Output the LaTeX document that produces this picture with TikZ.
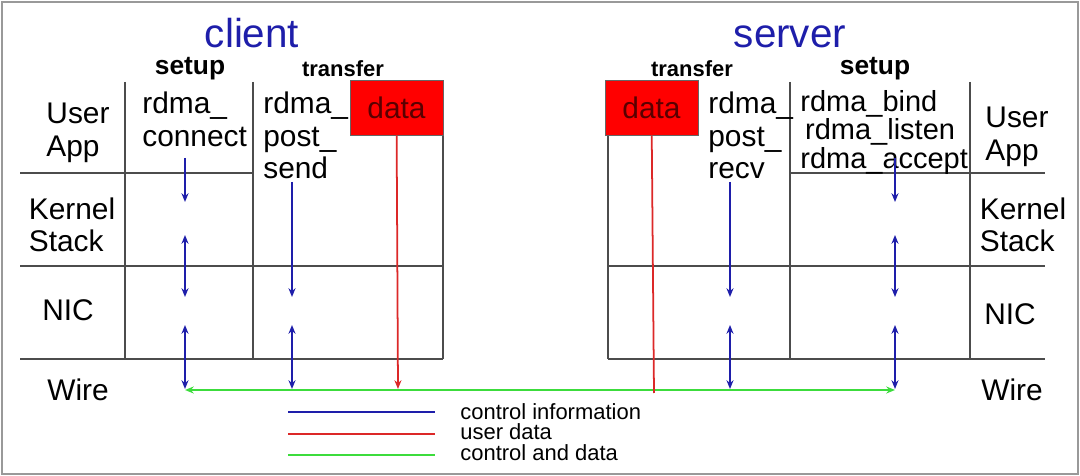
\documentclass[tikz,border=0pt]{standalone}
\usepackage{fontspec}
\setmainfont{Liberation Sans}
\usetikzlibrary{arrows.meta}
\definecolor{ctrl}{RGB}{30,30,170}
\definecolor{udata}{RGB}{220,40,40}
\definecolor{both}{RGB}{60,220,60}
\tikzset{
  grid/.style={draw=black!70, line width=0.8pt},
  lbl/.style={font=\fontsize{17}{18.5}\selectfont, align=left, inner sep=0pt},
  head/.style={font=\fontsize{15}{16}\selectfont\bfseries, inner sep=0pt},
  ctl/.style={ctrl, line width=0.9pt, -{Stealth[length=5pt,width=4pt]}},
  ctlb/.style={ctrl, line width=0.9pt, {Stealth[length=5pt,width=4pt]}-{Stealth[length=5pt,width=4pt]}},
  databox/.style={fill=red, draw=black!60, minimum width=1.86cm, minimum height=1.1cm, inner sep=0pt, font=\fontsize{17}{20}\selectfont, text=red!35!black}
}
\begin{document}
\begin{tikzpicture}[x=0.02cm,y=-0.02cm]
  \useasboundingbox (0,0) rectangle (1080,476);
  \draw[black!40, line width=1.5pt] (2,2) rectangle (1078,474);

  % titles
  \node[font=\fontsize{23}{26}\selectfont, text=ctrl] (client) at (252,33) {client};
  \node[font=\fontsize{23}{26}\selectfont, text=ctrl] (server) at (790,37) {server};
  \node[head] (csetup) at (190,69) {setup};
  \node[head, font=\fontsize{12.5}{14}\selectfont\bfseries] (ctrans) at (343,69) {transfer};
  \node[head, font=\fontsize{12.5}{14}\selectfont\bfseries] (strans) at (692,69) {transfer};
  \node[head] (ssetup) at (875,69) {setup};

  % client grid
  \draw[grid] (20,173) -- (253,173);
  \draw[grid] (20,266) -- (443,266);
  \draw[grid] (20,359) -- (443,359);
  \draw[grid] (125,82) -- (125,359);
  \draw[grid] (253,82) -- (253,359);
  \draw[grid] (443,135) -- (443,359);
  \node[databox] (cdata) at (396.5,107.5) {data};

  % server grid
  \draw[grid] (790,173) -- (1045,173);
  \draw[grid] (608,266) -- (1045,266);
  \draw[grid] (608,359) -- (1045,359);
  \draw[grid] (608,135) -- (608,359);
  \draw[grid] (790,82) -- (790,359);
  \draw[grid] (970,82) -- (970,359);
  \node[databox] (sdata) at (651.5,107.5) {data};

  % row labels
  \node[lbl] (cuser) at (78,133) {User\\App};
  \node[lbl] (ckern) at (72,225) {Kernel\\Stack};
  \node[lbl] (cnic) at (68,310) {NIC};
  \node[lbl] (cwire) at (78,390) {Wire};
  \node[lbl] (suser) at (1017,137) {User\\App};
  \node[lbl] (skern) at (1023,225) {Kernel\\Stack};
  \node[lbl] (snic) at (1010,314) {NIC};
  \node[lbl] (swire) at (1012,390) {Wire};

  % verbs
  \node[lbl, anchor=north west] (connect) at (142,92) {rdma\_\\connect};
  \node[lbl, anchor=north west] (send) at (263,92) {rdma\_\\post\_\\send};
  \node[lbl, anchor=north west] (recv) at (708,92) {rdma\_\\post\_\\recv};
  \node[lbl, anchor=north west, font=\fontsize{16.5}{12.5}\selectfont] (accept) at (800,90) {rdma\_bind\\\,rdma\_listen\\rdma\_accept};

  % arrow ends
  \coordinate (c1a) at (185,158); \coordinate (c1b) at (185,202);
  \coordinate (c2a) at (185,235); \coordinate (c2b) at (185,297);
  \coordinate (c3a) at (185,325); \coordinate (c3b) at (185,389);
  \coordinate (t1a) at (292,182); \coordinate (t1b) at (292,297);
  \coordinate (t2a) at (292,325); \coordinate (t2b) at (292,389);
  \coordinate (r1a) at (730,182); \coordinate (r1b) at (730,297);
  \coordinate (r2a) at (730,325); \coordinate (r2b) at (730,389);
  \coordinate (s1a) at (895,158); \coordinate (s1b) at (895,202);
  \coordinate (s2a) at (895,235); \coordinate (s2b) at (895,297);
  \coordinate (s3a) at (895,325); \coordinate (s3b) at (895,389);
  \coordinate (cred) at (398,389);
  \coordinate (sred) at (654,393);
  \coordinate (wl) at (185,390); \coordinate (wr) at (895,390);

  \draw[both, line width=1.1pt, {Stealth[length=5pt,width=4pt]}-{Stealth[length=5pt,width=4pt]}] (wl) -- (wr);
  \draw[ctl] (c1a) -- (c1b);
  \draw[ctlb] (c2a) -- (c2b);
  \draw[ctlb] (c3a) -- (c3b);
  \draw[ctl] (t1a) -- (t1b);
  \draw[ctlb] (t2a) -- (t2b);
  \draw[ctl] (r1a) -- (r1b);
  \draw[ctlb] (r2a) -- (r2b);
  \draw[ctl] (s1a) -- (s1b);
  \draw[ctlb] (s2a) -- (s2b);
  \draw[ctlb] (s3a) -- (s3b);
  \draw[udata, line width=1pt, -{Stealth[length=5pt,width=4pt]}] (cdata) -- (cred);
  \draw[udata, line width=1pt] (sdata) -- (sred);

  % legend
  \coordinate (l1a) at (288,412); \coordinate (l1b) at (435,412);
  \coordinate (l2a) at (288,434); \coordinate (l2b) at (435,434);
  \coordinate (l3a) at (288,455); \coordinate (l3b) at (435,455);
  \draw[ctrl, line width=1pt] (l1a) -- (l1b);
  \draw[udata, line width=1pt] (l2a) -- (l2b);
  \draw[both, line width=1pt] (l3a) -- (l3b);
  \node[lbl, anchor=west, font=\fontsize{12.5}{14}\selectfont] (leg1) at (460,412) {control information};
  \node[lbl, anchor=west, font=\fontsize{12.5}{14}\selectfont] (leg2) at (460,432) {user data};
  \node[lbl, anchor=west, font=\fontsize{12.5}{14}\selectfont] (leg3) at (460,453) {control and data};
\end{tikzpicture}
\end{document}
